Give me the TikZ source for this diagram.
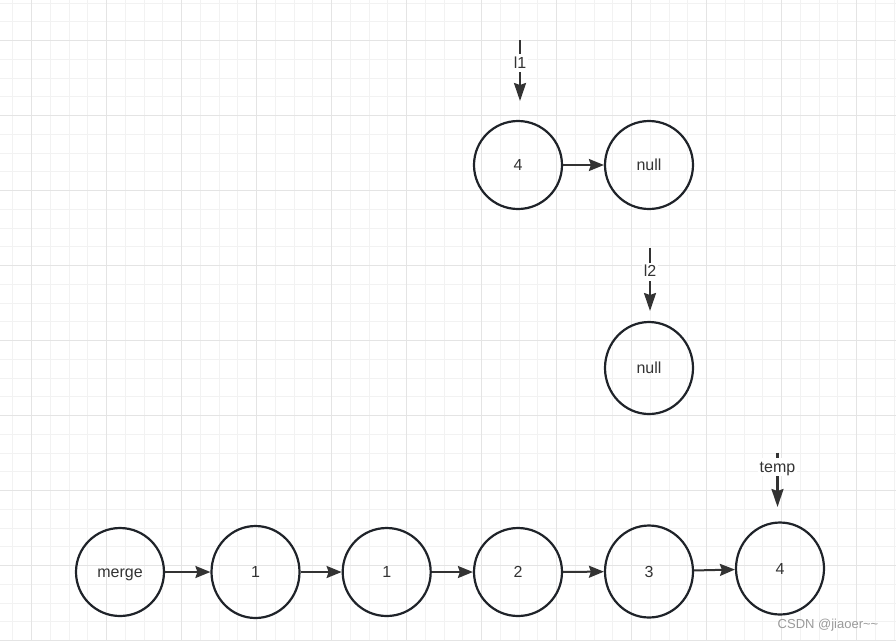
\documentclass[tikz,border=0pt]{standalone}
\usepackage{fontspec}
\setmainfont{Liberation Sans}
\usetikzlibrary{arrows.meta,shapes.geometric}
\definecolor{gridminor}{HTML}{F2F2F2}
\definecolor{gridmajor}{HTML}{E4E4E4}
\definecolor{stroke}{HTML}{1F2329}
\definecolor{txt}{HTML}{333333}
\definecolor{wm}{HTML}{9A9A9A}
\begin{document}
\begin{tikzpicture}[x=1pt,y=-1pt,
  minorline/.style={draw=gridminor,line width=1pt},
  majorline/.style={draw=gridmajor,line width=1.2pt},
  listnode/.style={ellipse,draw=stroke,line width=2.2pt,minimum width=88pt,minimum height=88pt,inner sep=0pt,text=txt,font=\fontsize{16}{18}\selectfont,text height=11.5pt,text depth=0pt},
  link/.style={draw=txt,line width=2pt,-{Stealth[length=15pt,width=12pt,inset=2pt]}},
  ptr/.style={draw=txt,line width=2.2pt,-{Stealth[length=18pt,width=12pt,inset=2pt]}},
  ptrlabel/.style={fill=white,text=txt,inner xsep=2pt,inner ysep=0pt,text height=14pt,text depth=4pt,font=\fontsize{16}{18}\selectfont}]
\useasboundingbox (0,0) rectangle (896,641);
\fill[white] (0,0) rectangle (896,641);
% grid
\foreach \i in {0,...,47} \draw[minorline] ({12.95+18.75*\i},0) -- ({12.95+18.75*\i},641);
\foreach \j in {0,...,34} \draw[minorline] (0,{3.2+18.75*\j}) -- (896,{3.2+18.75*\j});
\foreach \i in {0,...,11} \draw[majorline] ({31.7+75*\i},0) -- ({31.7+75*\i},641);
\foreach \j in {0,...,8} \draw[majorline] (0,{40.7+75*\j}) -- (896,{40.7+75*\j});
% nodes
\node[listnode] (a4) at (518,165) {4};
\node[listnode] (anull) at (649,165) {null};
\node[listnode,minimum height=92pt] (bnull) at (649,368) {null};
\node[listnode] (merge) at (120,572) {merge};
\node[listnode,minimum height=92pt] (c1) at (255.5,572) {1};
\node[listnode] (c2) at (386.7,572) {1};
\node[listnode] (c3) at (518,572) {2};
\node[listnode,minimum height=92pt] (c4) at (649,571.5) {3};
\node[listnode,minimum height=92pt] (c5) at (780,568.5) {4};
% links
\draw[link] (a4) -- (anull);
\draw[link] (merge) -- (c1);
\draw[link] (c1) -- (c2);
\draw[link] (c2) -- (c3);
\draw[link] (c3) -- (c4);
\draw[link] (c4) -- (c5);
% pointers
\coordinate (l1s) at (520,40);
\coordinate (l1e) at (520,101);
\coordinate (l2s) at (650,248);
\coordinate (l2e) at (650,311);
\coordinate (ts) at (777.5,452.5);
\coordinate (te) at (777.5,507);
\draw[ptr] (l1s) -- node[ptrlabel,pos=0.38] {l1} (l1e);
\draw[ptr] (l2s) -- node[ptrlabel,pos=0.38] {l2} (l2e);
\draw[ptr] (ts) -- node[ptrlabel,pos=0.27] {temp} (te);
% watermark
\node[text=wm,font=\fontsize{13}{15}\selectfont,anchor=center] (wmark) at (828,625) {CSDN @jiaoer\textasciitilde\textasciitilde};
\end{tikzpicture}
\end{document}
